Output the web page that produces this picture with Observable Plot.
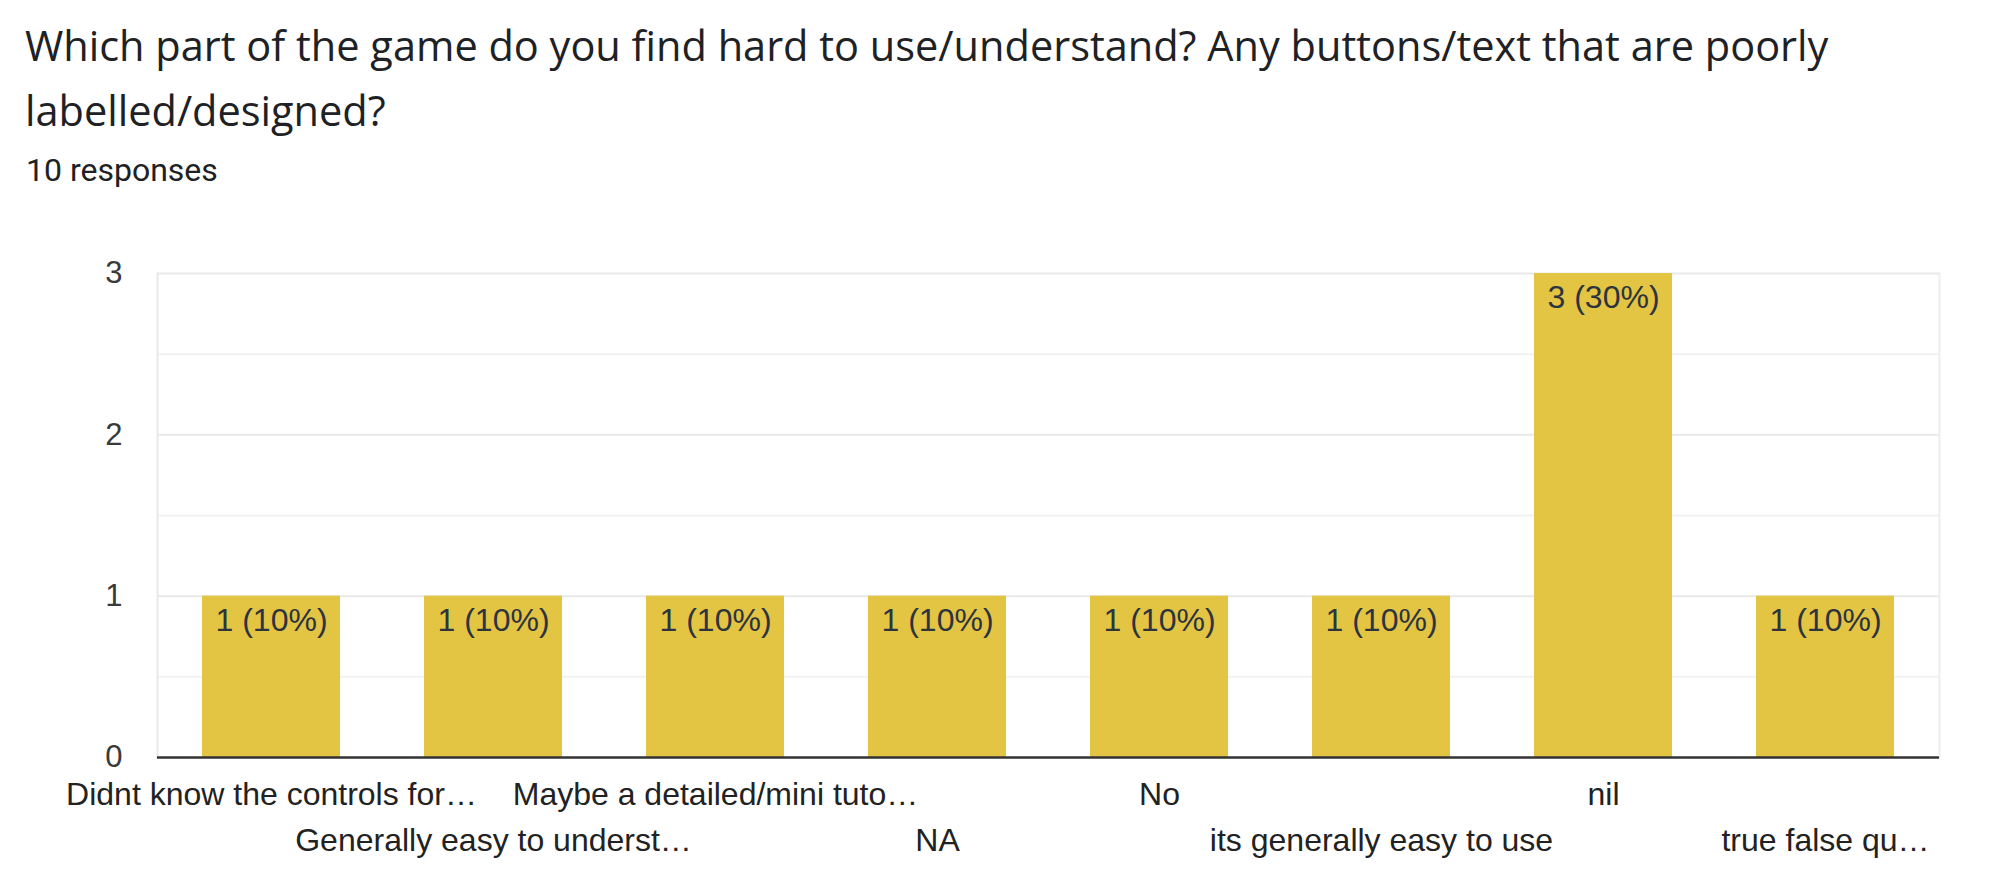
<!DOCTYPE html>
<html>
<head>
<meta charset="utf-8">
<script src="https://cdn.jsdelivr.net/npm/d3@7"></script>
<script src="https://cdn.jsdelivr.net/npm/@observablehq/plot@0.6"></script>
<style>
  html, body { margin: 0; padding: 0; background: #fff; }
  body { width: 1994px; height: 890px; position: relative; overflow: hidden; }
  #title { position: absolute; left: 25px; top: 13px; width: 1950px; font-family: "Open Sans", sans-serif; font-size: 41.5px; line-height: 65px; color: #202124; }
  #sub { position: absolute; left: 26px; top: 154px; font-family: Roboto, sans-serif; font-size: 32px; line-height: 32px; color: #202124; }
  #chart { position: absolute; left: 0; top: 200px; }
</style>
</head>
<body>
<div id="title">Which part of the game do you find hard to use/understand? Any buttons/text that are poorly<br>labelled/designed?</div>
<div id="sub">10 responses</div>
<div id="chart"></div>
<script>
const categories = [
  "Didnt know the controls for…",
  "Generally easy to underst…",
  "Maybe a detailed/mini tuto…",
  "NA",
  "No",
  "its generally easy to use",
  "nil",
  "true false qu…"
];
const counts = [1, 1, 1, 1, 1, 1, 3, 1];
const totalResponses = 10;
const yTicks = [0, 1, 2, 3];
const minorTicks = [0.5, 1.5, 2.5];

const data = categories.map((c, i) => ({cat: c, n: counts[i], i}));
const row1 = data.filter(d => d.i % 2 === 0);
const row2 = data.filter(d => d.i % 2 === 1);

const chart = Plot.plot({
  width: 1994,
  height: 690,
  marginTop: 73,
  marginBottom: 133,
  marginLeft: 157,
  marginRight: 55,
  style: {fontFamily: "'Liberation Sans', Arial, sans-serif", background: "#fff"},
  x: {domain: categories, paddingInner: 0.38, paddingOuter: 0.19, align: 0.5, axis: null},
  y: {domain: [0, 3], axis: null, label: null},
  marks: [
    Plot.ruleY(minorTicks, {stroke: "#f2f2f2", strokeWidth: 2}),
    Plot.ruleY(yTicks.filter(t => t > 0), {stroke: "#e9e9e9", strokeWidth: 2}),
    Plot.frame({anchor: "left", stroke: "#e9e9e9", strokeWidth: 2}),
    Plot.frame({anchor: "right", stroke: "#eeeeee", strokeWidth: 2}),
    Plot.barY(data, {x: "cat", y: "n", fill: "#e4c443"}),
    Plot.ruleY([0], {stroke: "#333333", strokeWidth: 2.5}),
    Plot.text(data, {x: "cat", y: "n", text: d => `${d.n} (${Math.round(d.n / totalResponses * 100)}%)`, lineAnchor: "top", dy: 12, fontSize: 32, fill: "#2c3440"}),
    Plot.axisY({ticks: yTicks, tickSize: 0, tickPadding: 35, fontSize: 31, color: "#3a3a3a", label: null, tickFormat: d => d}),
    Plot.text(row1, {x: "cat", text: "cat", frameAnchor: "bottom", lineAnchor: "top", dy: 25, fontSize: 32, fill: "#222"}),
    Plot.text(row2, {x: "cat", text: "cat", frameAnchor: "bottom", lineAnchor: "top", dy: 71, fontSize: 32, fill: "#222"})
  ]
});
document.getElementById("chart").appendChild(chart);
</script>
</body>
</html>
